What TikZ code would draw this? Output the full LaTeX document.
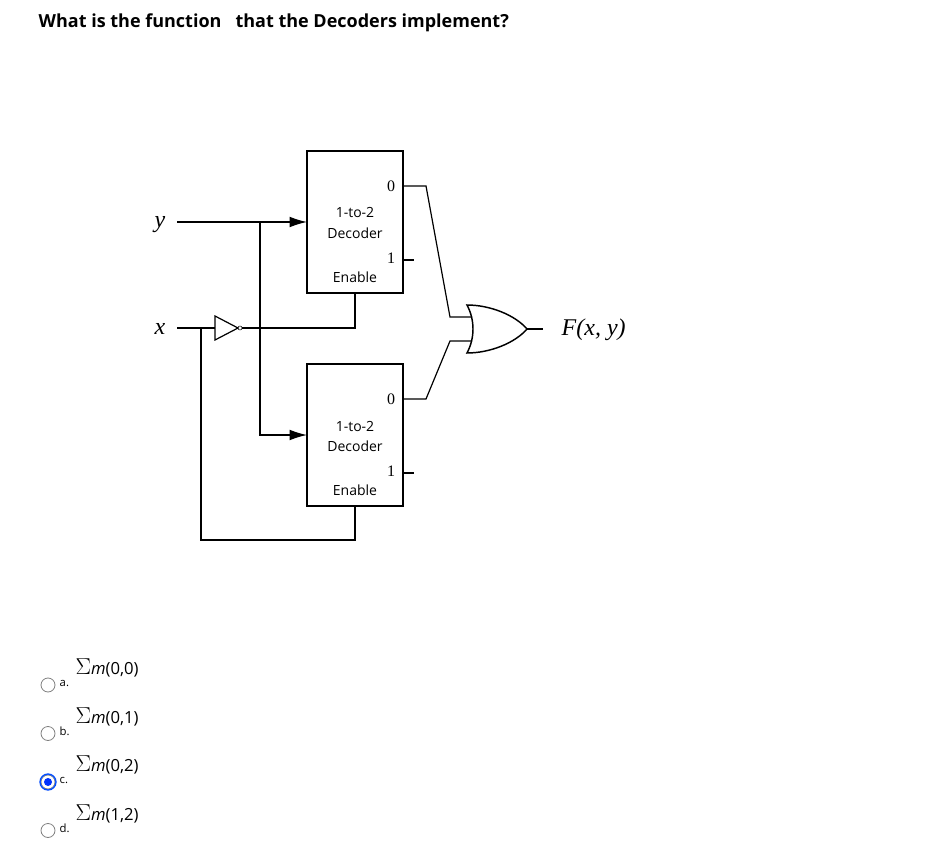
\documentclass[tikz,border=0pt]{standalone}
\usepackage{fontspec}
\setmainfont{Liberation Serif}
\newfontfamily\osans{Open Sans}
\usetikzlibrary{arrows.meta}
\begin{document}
\begin{tikzpicture}[x=0.75pt,y=-0.75pt,
  wire/.style={line width=0.9pt},
  box/.style={draw,line width=1.2pt,minimum width=96*0.75pt,minimum height=142*0.75pt,inner sep=0pt},
  lbl/.style={font=\osans\fontsize{10.5}{12}\selectfont},
  num/.style={font=\fontsize{12}{12}\selectfont},
  opt/.style={font=\osans\fontsize{12.5}{14}\selectfont,anchor=west},
  arr/.style={wire,-{Latex[length=13pt,width=8pt]}}]
\useasboundingbox (0,0) rectangle (946,852);
\node[anchor=west,font=\osans\bfseries\fontsize{13.5}{15}\selectfont] (title) at (34,23) {What is the function\ \ \ that the Decoders implement?};
% decoders
\node[box] (d1) at (355,222) {};
\node[box] (d2) at (355,435) {};
\foreach \d/\o in {d1/0,d2/213}{
  \node[lbl] (\d a) at (355,213+\o) {1-to-2};
  \node[lbl] (\d b) at (355,233+\o) {Decoder};
  \node[lbl] (\d e) at (355,277+\o) {Enable};
  \node[num] (\d z) at (391,186+\o) {0};
  \node[num] (\d o) at (391,258+\o) {1};
  \coordinate (\d s1) at (403,260+\o);
  \coordinate (\d s2) at (414,260+\o);
  \draw[wire] (\d s1) -- (\d s2);
}
% inputs
\node[font=\itshape\fontsize{18}{18}\selectfont] (y) at (160,225) {y};
\node[font=\itshape\fontsize{18}{18}\selectfont] (x) at (160,329) {x};
\coordinate (ys) at (177,222);
\coordinate (yb) at (260,222);
\draw[arr] (ys) -- (307,222);
\draw[arr] (yb) |- (307,435);
\coordinate (xs) at (177,328);
\coordinate (xb) at (201,328);
% inverter
\coordinate (ti) at (215,328);
\draw[wire] (xs) -- (ti);
\draw[wire] (215,316) -- (238,328) -- (215,340) -- cycle;
\node[draw,circle,inner sep=0pt,minimum size=3pt] (bub) at (240,328) {};
\draw[wire] (bub) -- (355,328) -- (d1.south);
\draw[wire] (xb) -- (201,540) -| (d2.south);
% OR gate
\draw[line width=1.1pt] (467,305) .. controls (490,305) and (515,315) .. (527,329)
  .. controls (515,343) and (490,353) .. (467,353)
  .. controls (475,338) and (475,320) .. cycle;
\coordinate (or1) at (472,317);
\coordinate (or2) at (472,341);
\coordinate (oo) at (527,329);
\draw[wire] (403,186) -- (426,186) -- (450,317) -- (or1);
\draw[wire] (403,399) -- (426,399) -- (450,341) -- (or2);
\draw[wire] (oo) -- (543,329);
\node[anchor=west,font=\itshape\fontsize{18}{18}\selectfont] (F) at (557,330) {F(x, y)};
% options
\foreach \i/\l/\t in {0/a/(0{,}0),1/b/(0{,}1),2/c/(0{,}2),3/d/(1{,}2)}{
  \node[draw=gray,circle,line width=0.6pt,minimum size=10.5pt,inner sep=0pt] (r\l) at (48,685+48.5*\i) {};
  \node[opt,font=\osans\fontsize{8.5}{10}\selectfont] (l\l) at (55,683+48.5*\i) {\l.};
  \node[opt] (s\l) at (71,668+48.5*\i) {{\fontsize{17}{17}\selectfont$\Sigma$}\textit{m}\t};
}
\fill[blue!80!cyan] (rc) circle (3pt);
\draw[blue!70!cyan,line width=1pt] (rc) circle (6pt);
\end{tikzpicture}
\end{document}
